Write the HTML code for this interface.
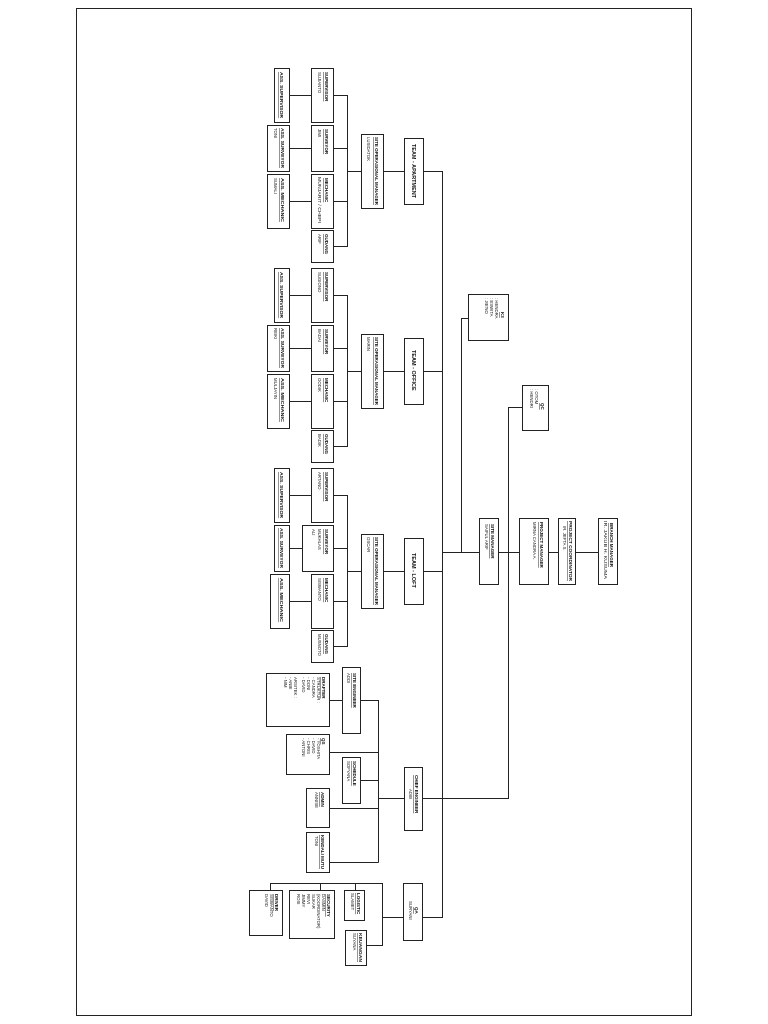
<!DOCTYPE html>
<html><head><meta charset="utf-8"><style>
html,body{margin:0;padding:0;background:#fff;width:768px;height:1024px;overflow:hidden}
svg text{font-family:"Liberation Sans",sans-serif;fill:#111}
.t{font-size:4.5px;font-weight:bold;text-decoration:underline}
.n{font-size:4.3px}
.b{font-size:5.5px;font-weight:bold}
</style></head><body>
<svg width="768" height="1024" viewBox="0 0 768 1024" xmlns="http://www.w3.org/2000/svg">
<rect x="76.5" y="8.5" width="615" height="1007" fill="none" stroke="#222" stroke-width="1"/>
<g fill="#fff" stroke="#222" stroke-width="1">
<rect x="274.5" y="68.5" width="15" height="54"/><rect x="311.5" y="68.5" width="22" height="54"/>
<rect x="267.5" y="125.5" width="22" height="46"/><rect x="311.5" y="125.5" width="22" height="46"/>
<rect x="267.5" y="174.5" width="22" height="54"/><rect x="311.5" y="174.5" width="22" height="54"/>
<rect x="311.5" y="230.5" width="22" height="32"/>
<rect x="361.5" y="134.5" width="22" height="74"/><rect x="404.5" y="138.5" width="19" height="66"/>
<rect x="274.5" y="268.5" width="15" height="54"/><rect x="311.5" y="268.5" width="22" height="54"/>
<rect x="267.5" y="325.5" width="22" height="46"/><rect x="311.5" y="325.5" width="22" height="46"/>
<rect x="267.5" y="374.5" width="22" height="54"/><rect x="311.5" y="374.5" width="22" height="54"/>
<rect x="311.5" y="430.5" width="22" height="32"/>
<rect x="361.5" y="334.5" width="22" height="74"/><rect x="404.5" y="338.5" width="19" height="66"/>
<rect x="274.5" y="468.5" width="15" height="54"/><rect x="311.5" y="468.5" width="22" height="54"/>
<rect x="274.5" y="525.5" width="15" height="46"/><rect x="302.5" y="525.5" width="31" height="46"/>
<rect x="270.5" y="574.5" width="19" height="54"/><rect x="311.5" y="574.5" width="22" height="54"/>
<rect x="311.5" y="630.5" width="22" height="32"/>
<rect x="361.5" y="534.5" width="22" height="74"/><rect x="404.5" y="538.5" width="19" height="66"/>
<rect x="468.5" y="294.5" width="40" height="46"/>
<rect x="522.5" y="385.5" width="26" height="45"/>
<rect x="479.5" y="518.5" width="19" height="66"/>
<rect x="519.5" y="518.5" width="29" height="66"/>
<rect x="558.5" y="518.5" width="17" height="66"/>
<rect x="598.5" y="518.5" width="19" height="66"/>
<rect x="404.5" y="767.5" width="18" height="63"/>
<rect x="342.5" y="667.5" width="18" height="66"/>
<rect x="266.5" y="673.5" width="63" height="53"/>
<rect x="286.5" y="734.5" width="43" height="40"/>
<rect x="342.5" y="757.5" width="18" height="46"/>
<rect x="306.5" y="788.5" width="23" height="39"/>
<rect x="306.5" y="832.5" width="23" height="40"/>
<rect x="403.5" y="883.5" width="19" height="57"/>
<rect x="249.5" y="890.5" width="33" height="45"/>
<rect x="289.5" y="890.5" width="45" height="48"/>
<rect x="344.5" y="890.5" width="20" height="30"/>
<rect x="345.5" y="930.5" width="21" height="35"/>
</g>
<g stroke="#222" stroke-width="1" fill="none">
<path d="M289 95.5H311M289 148.5H311M289 201.5H311M333 95.5H347.5M333 148.5H347.5M333 201.5H347.5M333 246.5H347.5M347.5 95V247M347.5 171.5H361M383 171.5H404M423 171.5H442.5"/>
<path d="M289 295.5H311M289 348.5H311M289 401.5H311M333 295.5H347.5M333 348.5H347.5M333 401.5H347.5M333 446.5H347.5M347.5 295V447M347.5 371.5H361M383 371.5H404M423 371.5H442.5"/>
<path d="M289 495.5H311M289 548.5H302M289 601.5H311M333 495.5H347.5M333 548.5H347.5M333 601.5H347.5M333 646.5H347.5M347.5 495V647M347.5 571.5H361M383 571.5H404M423 571.5H442.5"/>
<path d="M442.5 171V917.5H422M442.5 552.5H479M498 552.5H519M548 552.5H558M575 552.5H598M461.5 552V318.5H468M508.5 407.5H522M508.5 407V798.5H422"/>
<path d="M404 798.5H378.5M378.5 700V862.5M378.5 700.5H360M342 700.5H329M378.5 752.5H329M378.5 780.5H360M378.5 808.5H329M378.5 862.5H329"/>
<path d="M403 917.5H382.5M382.5 883V945.5H366M382.5 883.5H270.5V890M320.5 883V890M355.5 883V890"/>
</g>
<g>
<g transform="translate(289,68) rotate(90)"><text class="t" x="4" y="9" textLength="46" lengthAdjust="spacingAndGlyphs">ASS. SUPERVISOR</text></g>
<g transform="translate(333,68) rotate(90)"><text class="t" x="4" y="8">SUPERVISOR</text><text class="n" x="4" y="15">SUJIANTO</text></g>
<g transform="translate(289,125) rotate(90)"><text class="t" x="3" y="8" textLength="40" lengthAdjust="spacingAndGlyphs">ASS. SURVEYOR</text><text class="n" x="3" y="15">TONI</text></g>
<g transform="translate(333,125) rotate(90)"><text class="t" x="4" y="8">SURVEYOR</text><text class="n" x="4" y="15">JIMI</text></g>
<g transform="translate(289,174) rotate(90)"><text class="t" x="4" y="8" textLength="44" lengthAdjust="spacingAndGlyphs">ASS. MECHANIC</text><text class="n" x="4" y="15">SUMALI</text></g>
<g transform="translate(333,174) rotate(90)"><text class="t" x="4" y="8">MECHANIC</text><text class="n" x="3" y="15" textLength="46" lengthAdjust="spacingAndGlyphs">MUNJARIT / CHEPI</text></g>
<g transform="translate(333,230) rotate(90)"><text class="t" x="4" y="8">GUDANG</text><text class="n" x="4" y="15">ARIF</text></g>
<g transform="translate(383,134) rotate(90)"><text class="t" x="3" y="8" textLength="68" lengthAdjust="spacingAndGlyphs">SITE OPERASIONAL MANAGER</text><text class="n" x="3" y="16">LUSIDATOK</text></g>
<g transform="translate(423,138) rotate(90)"><text class="b" x="6" y="11" textLength="54" lengthAdjust="spacingAndGlyphs">TEAM - APARTMENT</text></g>

<g transform="translate(289,268) rotate(90)"><text class="t" x="4" y="9" textLength="46" lengthAdjust="spacingAndGlyphs">ASS. SUPERVISOR</text></g>
<g transform="translate(333,268) rotate(90)"><text class="t" x="4" y="8">SUPERVISOR</text><text class="n" x="4" y="15">SUGIONO</text></g>
<g transform="translate(289,325) rotate(90)"><text class="t" x="3" y="8" textLength="40" lengthAdjust="spacingAndGlyphs">ASS. SURVEYOR</text><text class="n" x="3" y="15">REIKI</text></g>
<g transform="translate(333,325) rotate(90)"><text class="t" x="4" y="8">SURVEYOR</text><text class="n" x="4" y="15">BADAI</text></g>
<g transform="translate(289,374) rotate(90)"><text class="t" x="4" y="8" textLength="44" lengthAdjust="spacingAndGlyphs">ASS. MECHANIC</text><text class="n" x="4" y="15">MULJAYIN</text></g>
<g transform="translate(333,374) rotate(90)"><text class="t" x="4" y="8">MECHANIC</text><text class="n" x="4" y="15">OODIK</text></g>
<g transform="translate(333,430) rotate(90)"><text class="t" x="4" y="8">GUDANG</text><text class="n" x="4" y="15">BADIK</text></g>
<g transform="translate(383,334) rotate(90)"><text class="t" x="3" y="8" textLength="68" lengthAdjust="spacingAndGlyphs">SITE OPERASIONAL MANAGER</text><text class="n" x="3" y="16">MARIN</text></g>
<g transform="translate(423,338) rotate(90)"><text class="b" x="12" y="11">TEAM - OFFICE</text></g>

<g transform="translate(289,468) rotate(90)"><text class="t" x="4" y="9" textLength="46" lengthAdjust="spacingAndGlyphs">ASS. SUPERVISOR</text></g>
<g transform="translate(333,468) rotate(90)"><text class="t" x="4" y="8">SUPERVISOR</text><text class="n" x="4" y="15">ARTANO</text></g>
<g transform="translate(289,525) rotate(90)"><text class="t" x="3" y="9" textLength="40" lengthAdjust="spacingAndGlyphs">ASS. SURVEYOR</text></g>
<g transform="translate(333,525) rotate(90)"><text class="t" x="4" y="8">SURVEYOR</text><text class="n" x="4" y="15">MUKHLAS</text><text class="n" x="4" y="21">ALI</text></g>
<g transform="translate(289,574) rotate(90)"><text class="t" x="4" y="9" textLength="44" lengthAdjust="spacingAndGlyphs">ASS. MECHANIC</text></g>
<g transform="translate(333,574) rotate(90)"><text class="t" x="4" y="8">MECHANIC</text><text class="n" x="4" y="15">SISWANTO</text></g>
<g transform="translate(333,630) rotate(90)"><text class="t" x="4" y="8">GUDANG</text><text class="n" x="4" y="15">MUSNOTO</text></g>
<g transform="translate(383,534) rotate(90)"><text class="t" x="3" y="8" textLength="68" lengthAdjust="spacingAndGlyphs">SITE OPERASIONAL MANAGER</text><text class="n" x="3" y="16">OSCAR</text></g>
<g transform="translate(423,538) rotate(90)"><text class="b" x="15" y="11">TEAM - LOFT</text></g>

<g transform="translate(508,294) rotate(90)"><text class="t" x="18" y="7">K3</text><text class="n" x="4" y="13">: HENDRA</text><text class="n" x="4" y="18">: ESWITA</text><text class="n" x="4" y="23">: JIE'NO</text></g>
<g transform="translate(548,385) rotate(90)"><text class="t" x="18" y="7">QC</text><text class="n" x="4" y="13">: OTOM</text><text class="n" x="4" y="18">: HENDRI</text></g>
<g transform="translate(498,518) rotate(90)"><text class="t" x="6" y="7">SITE MANAGER</text><text class="n" x="6" y="13">SAIFUL ARIF</text></g>
<g transform="translate(548,518) rotate(90)"><text class="t" x="4" y="8">PROJECT MANAGER</text><text class="n" x="4" y="15">MIRNA CANDRA A.</text></g>
<g transform="translate(575,518) rotate(90)"><text class="t" x="3" y="6" textLength="60" lengthAdjust="spacingAndGlyphs">PROJECT COORDINATOR</text><text class="n" x="8" y="12">IR. JEFTA S.</text></g>
<g transform="translate(617,518) rotate(90)"><text class="t" x="5" y="7">BRANCH MANAGER</text><text class="n" x="3" y="13" textLength="58" lengthAdjust="spacingAndGlyphs">IR. JAKUB H. KUSUMA</text></g>

<g transform="translate(422,767) rotate(90)"><text class="t" x="8" y="7">CHIEF ENGINEER</text><text class="n" x="22" y="13">ADIB</text></g>
<g transform="translate(360,667) rotate(90)"><text class="t" x="6" y="7">SITE ENGINEER</text><text class="n" x="6" y="13">ADDI</text></g>
<g transform="translate(329,673) rotate(90)"><text class="t" x="4" y="7">DRAFTER</text><text class="n" x="4" y="12">STRUKTUR :</text><text class="n" x="4" y="17">- CANDRA</text><text class="n" x="4" y="22">- DONI</text><text class="n" x="4" y="27">- DAVID</text><text class="n" x="4" y="35">ARSITEK :</text><text class="n" x="4" y="40">- ANBI</text><text class="n" x="4" y="45">- NIM</text></g>
<g transform="translate(329,734) rotate(90)"><text class="t" x="4" y="7">QS</text><text class="n" x="4" y="12">- YOSHITA</text><text class="n" x="4" y="17">- DAVID</text><text class="n" x="4" y="22">- CHRIS</text><text class="n" x="4" y="27">- ANTONI</text></g>
<g transform="translate(360,757) rotate(90)"><text class="t" x="4" y="7">SCHEDULE</text><text class="n" x="4" y="13">SOFYANA</text></g>
<g transform="translate(329,788) rotate(90)"><text class="t" x="4" y="8">ADMIN</text><text class="n" x="4" y="14">ANNISE</text></g>
<g transform="translate(329,832) rotate(90)"><text class="t" x="3" y="8" textLength="34" lengthAdjust="spacingAndGlyphs">KENDALI MUTU</text><text class="n" x="4" y="14">TONI</text></g>

<g transform="translate(422,883) rotate(90)"><text class="t" x="24" y="7">QA</text><text class="n" x="18" y="13">SURYANI</text></g>
<g transform="translate(282,890) rotate(90)"><text class="t" x="4" y="7">DRIVER</text><text class="n" x="4" y="12">SISWANTO</text><text class="n" x="4" y="17">DAVID</text></g>
<g transform="translate(334,890) rotate(90)"><text class="t" x="4" y="7">SECURITY</text><text class="n" x="4" y="12">DASMIN</text><text class="n" x="4" y="17">(KOORDINATOR)</text><text class="n" x="4" y="22">SUKAR</text><text class="n" x="4" y="27">REVI</text><text class="n" x="4" y="32">JIMMY</text><text class="n" x="4" y="37">ROSI</text></g>
<g transform="translate(364,890) rotate(90)"><text class="t" x="3" y="7">LOGISTIC</text><text class="n" x="3" y="13">SLAMET</text></g>
<g transform="translate(366,930) rotate(90)"><text class="t" x="3" y="7" textLength="29" lengthAdjust="spacingAndGlyphs">KEUANGAN</text><text class="n" x="3" y="13">SUYANA</text></g>
</g>
</svg>
</body></html>
